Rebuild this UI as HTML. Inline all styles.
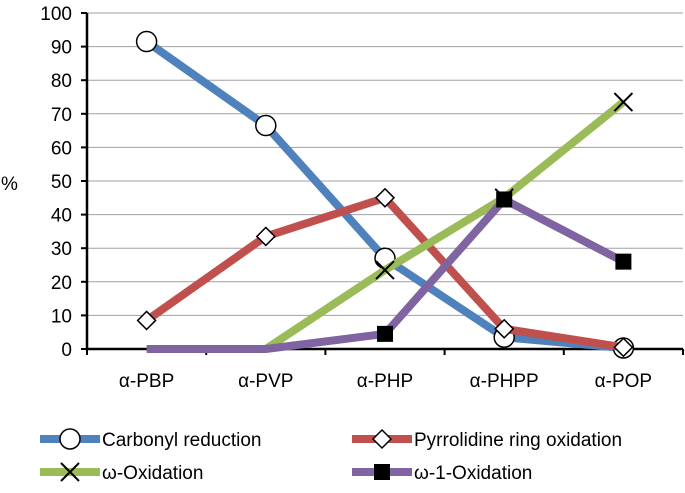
<!DOCTYPE html>
<html><head><meta charset="utf-8"><style>
body{margin:0;background:#fff;font-family:"Liberation Sans",sans-serif}
svg text{font-family:"Liberation Sans",sans-serif;font-size:19px;fill:#000}
</style></head><body>
<svg width="685" height="488" id="c"></svg>
<script>
const categories=["α-PBP","α-PVP","α-PHP","α-PHPP","α-POP"];
const carbonyl=[91.5,66.5,27,3.5,0.3];
const pyrrolidine=[8.5,33.5,45,6,0.5];
const omega=[null,0,23.5,45,73.5];
const omega1=[0,0,4.5,44.5,26];
const yTicks=[0,10,20,30,40,50,60,70,80,90,100];
const ns="http://www.w3.org/2000/svg";
const svg=document.getElementById('c');
const X0=87,X1=683,Y0=349,Y1=13;
const bw=(X1-X0)/categories.length;
const x=i=>X0+bw*(i+0.5);
const y=v=>Y0-(v/100)*(Y0-Y1);
function mk(t,a,p){const e=document.createElementNS(ns,t);for(const k in a)e.setAttribute(k,a[k]);(p||svg).appendChild(e);return e;}
yTicks.forEach(v=>{
  if(v>0){const g=mk('line',{x1:X0,x2:X1,y1:y(v),y2:y(v),stroke:'#a0a0a0','stroke-width':1});
  
  }
  mk('line',{x1:X0-6,x2:X0,y1:y(v),y2:y(v),stroke:'#000','stroke-width':2});
  const t=mk('text',{x:X0-15,y:y(v)+7,'text-anchor':'end'});t.textContent=v;
  
  
});
const ax=mk('path',{d:`M${X0},${Y1} V${Y0} H${X1}`,fill:'none',stroke:'#000','stroke-width':2.5});


for(let i=0;i<=categories.length;i++)mk('line',{x1:X0+bw*i,x2:X0+bw*i,y1:Y0,y2:Y0+6,stroke:'#000','stroke-width':2});
categories.forEach((c,i)=>{const t=mk('text',{x:x(i),y:387,'text-anchor':'middle'});t.textContent=c;

});
const yt=mk('text',{x:1,y:190});yt.textContent='%';


function marker(type,cx,cy,g){
  if(type==='circle')mk('circle',{cx,cy,r:10,fill:'#fff',stroke:'#000','stroke-width':1.5},g);
  else if(type==='diamond')mk('polygon',{points:`${cx},${cy-9} ${cx+9},${cy} ${cx},${cy+9} ${cx-9},${cy}`,fill:'#fff',stroke:'#000','stroke-width':1.5},g);
  else if(type==='x')mk('path',{d:`M${cx-9},${cy-9}L${cx+9},${cy+9}M${cx+9},${cy-9}L${cx-9},${cy+9}`,stroke:'#000','stroke-width':2},g);
  else if(type==='square')mk('rect',{x:cx-8,y:cy-8,width:16,height:16,fill:'#000'},g);
}
function series(data,color,type,name,markFrom){
  const g=mk('g',{});
  
  
  const pts=[];data.forEach((v,i)=>{if(v!==null)pts.push([x(i),y(v),i]);});
  mk('polyline',{points:pts.map(p=>p[0]+','+p[1]).join(' '),fill:'none',stroke:color,'stroke-width':8,'stroke-linejoin':'round'},g);
  pts.forEach(p=>{if(p[2]>=markFrom)marker(type,p[0],p[1],g);});
}
series(carbonyl,'#4f81bd','circle','carbonyl-reduction-series',0);
series(pyrrolidine,'#c0504d','diamond','pyrrolidine-series',0);
series(omega,'#9bbb59','x','omega-oxidation-series',2);
series(omega1,'#8064a2','square','omega1-oxidation-series',2);
const leg=[["Carbonyl reduction",'#4f81bd','circle',40,439],["Pyrrolidine ring oxidation",'#c0504d','diamond',352,439],["ω-Oxidation",'#9bbb59','x',40,472],["ω-1-Oxidation",'#8064a2','square',352,472]];
leg.forEach(l=>{const g=mk('g',{});
  
  
  mk('line',{x1:l[3],x2:l[3]+60,y1:l[4],y2:l[4],stroke:l[1],'stroke-width':8},g);
  marker(l[2],l[3]+30,l[4],g);
  const t=mk('text',{x:l[3]+62,y:l[4]+7},g);t.textContent=l[0];});
</script>
</body></html>
